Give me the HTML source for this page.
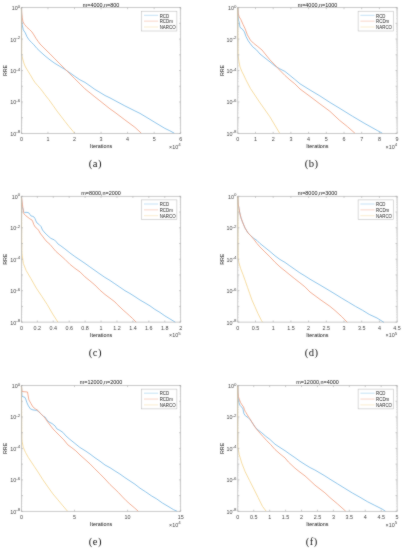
<!DOCTYPE html>
<html><head><meta charset="utf-8"><style>
html,body{margin:0;padding:0;background:#fff;width:402px;height:550px;overflow:hidden}
svg{display:block}
.tl{font-family:"Liberation Sans",Arial,sans-serif;font-size:5.4px;fill:#444444}
.xl{font-family:"Liberation Sans",Arial,sans-serif;font-size:5.4px;fill:#111}
.sup{font-size:4.4px}
.yl{font-family:"Liberation Sans",Arial,sans-serif;font-size:5.3px;fill:#111}
.tt{font-family:"Liberation Sans",Arial,sans-serif;font-size:5.45px;fill:#111}
.lg{font-family:"Liberation Sans",Arial,sans-serif;font-size:4.6px;fill:#1a1a1a}
.cap{font-family:"Liberation Serif","Times New Roman",serif;font-size:10.6px;letter-spacing:0.5px;fill:#151515}
</style></head><body>
<svg width="402" height="550" viewBox="0 0 402 550">
<defs><filter id="bl" x="0" y="0" width="402" height="550" filterUnits="userSpaceOnUse" color-interpolation-filters="sRGB"><feConvolveMatrix order="3" kernelMatrix="1 2 1 2 20 2 1 2 1" edgeMode="duplicate"/></filter></defs>
<g filter="url(#bl)">
<rect width="402" height="550" fill="#fff"/>
<polyline points="21.40,7.60 21.70,19.90 22.20,24.90 23.30,29.90 25.30,32.90 27.00,36.80 29.00,39.80 31.40,42.30 33.90,44.80 37.00,48.50 40.00,51.40 45.00,55.90 50.00,59.90 54.90,63.40 59.90,66.40 64.90,69.40 69.90,72.80 74.80,76.30 79.90,79.80 85.00,82.40 90.00,85.90 94.90,89.40 99.90,92.40 105.00,95.50 110.00,97.90 115.00,100.60 124.90,105.90 134.90,110.90 140.00,113.40 145.00,116.40 150.00,119.40 154.90,122.40 159.90,125.40 164.90,128.40 169.90,130.80 174.30,133.20" fill="none" stroke="#78b9e6" stroke-width="0.85" stroke-linejoin="round"/>
<polyline points="21.40,7.60 21.80,13.50 22.30,17.90 23.00,21.90 24.50,24.40 27.00,27.40 29.40,29.40 31.90,31.90 33.90,34.90 35.90,38.30 38.40,41.80 40.00,44.00 45.00,49.00 50.00,53.90 54.90,58.90 59.90,63.90 64.90,68.90 69.90,73.80 74.80,78.80 80.00,83.90 85.00,88.90 90.00,92.90 94.90,96.90 99.90,100.80 105.00,104.90 109.90,108.80 115.00,112.40 124.90,119.90 134.90,127.30 141.30,133.20" fill="none" stroke="#f09e80" stroke-width="0.85" stroke-linejoin="round"/>
<polyline points="21.40,7.60 21.70,55.00 23.00,60.00 24.20,64.00 25.50,67.00 27.00,69.50 28.50,71.90 30.00,74.40 31.00,76.00 33.00,79.50 35.00,82.50 37.50,85.40 40.00,88.20 42.40,91.20 44.90,94.70 49.00,99.80 53.00,105.40 56.90,110.90 60.90,116.10 64.90,121.30 68.90,126.40 72.90,131.20 74.50,133.30" fill="none" stroke="#f4d690" stroke-width="0.85" stroke-linejoin="round"/>
<rect x="21.40" y="7.60" width="159.30" height="125.80" fill="none" stroke="#b4b4b4" stroke-width="0.7"/>
<text x="21.40" y="141.10" class="tl" text-anchor="middle">0</text>
<text x="47.95" y="141.10" class="tl" text-anchor="middle">1</text>
<text x="74.50" y="141.10" class="tl" text-anchor="middle">2</text>
<text x="101.05" y="141.10" class="tl" text-anchor="middle">3</text>
<text x="127.60" y="141.10" class="tl" text-anchor="middle">4</text>
<text x="154.15" y="141.10" class="tl" text-anchor="middle">5</text>
<text x="180.70" y="141.10" class="tl" text-anchor="middle">6</text>
<text x="20.10" y="10.10" class="tl" text-anchor="end">10<tspan class="sup" dy="-2.5">0</tspan></text>
<text x="20.10" y="41.55" class="tl" text-anchor="end">10<tspan class="sup" dy="-2.5">-2</tspan></text>
<text x="20.10" y="73.00" class="tl" text-anchor="end">10<tspan class="sup" dy="-2.5">-4</tspan></text>
<text x="20.10" y="104.45" class="tl" text-anchor="end">10<tspan class="sup" dy="-2.5">-6</tspan></text>
<text x="20.10" y="135.90" class="tl" text-anchor="end">10<tspan class="sup" dy="-2.5">-8</tspan></text>
<path d="M21.40 133.40v-1.6M21.40 7.60v1.6M47.95 133.40v-1.6M47.95 7.60v1.6M74.50 133.40v-1.6M74.50 7.60v1.6M101.05 133.40v-1.6M101.05 7.60v1.6M127.60 133.40v-1.6M127.60 7.60v1.6M154.15 133.40v-1.6M154.15 7.60v1.6M180.70 133.40v-1.6M180.70 7.60v1.6M21.40 7.60h1.6M180.70 7.60h-1.6M21.40 23.32h1.6M180.70 23.32h-1.6M21.40 39.05h1.6M180.70 39.05h-1.6M21.40 54.77h1.6M180.70 54.77h-1.6M21.40 70.50h1.6M180.70 70.50h-1.6M21.40 86.22h1.6M180.70 86.22h-1.6M21.40 101.95h1.6M180.70 101.95h-1.6M21.40 117.67h1.6M180.70 117.67h-1.6M21.40 133.40h1.6M180.70 133.40h-1.6" stroke="#a8a8a8" stroke-width="0.6" fill="none"/>
<path d="M21.40 18.59h1.0M180.70 18.59h-1.0M21.40 15.82h1.0M180.70 15.82h-1.0M21.40 13.86h1.0M180.70 13.86h-1.0M21.40 12.33h1.0M180.70 12.33h-1.0M21.40 11.09h1.0M180.70 11.09h-1.0M21.40 10.04h1.0M180.70 10.04h-1.0M21.40 9.12h1.0M180.70 9.12h-1.0M21.40 8.32h1.0M180.70 8.32h-1.0M21.40 34.32h1.0M180.70 34.32h-1.0M21.40 31.55h1.0M180.70 31.55h-1.0M21.40 29.58h1.0M180.70 29.58h-1.0M21.40 28.06h1.0M180.70 28.06h-1.0M21.40 26.81h1.0M180.70 26.81h-1.0M21.40 25.76h1.0M180.70 25.76h-1.0M21.40 24.85h1.0M180.70 24.85h-1.0M21.40 24.04h1.0M180.70 24.04h-1.0M21.40 50.04h1.0M180.70 50.04h-1.0M21.40 47.27h1.0M180.70 47.27h-1.0M21.40 45.31h1.0M180.70 45.31h-1.0M21.40 43.78h1.0M180.70 43.78h-1.0M21.40 42.54h1.0M180.70 42.54h-1.0M21.40 41.49h1.0M180.70 41.49h-1.0M21.40 40.57h1.0M180.70 40.57h-1.0M21.40 39.77h1.0M180.70 39.77h-1.0M21.40 65.77h1.0M180.70 65.77h-1.0M21.40 63.00h1.0M180.70 63.00h-1.0M21.40 61.03h1.0M180.70 61.03h-1.0M21.40 59.51h1.0M180.70 59.51h-1.0M21.40 58.26h1.0M180.70 58.26h-1.0M21.40 57.21h1.0M180.70 57.21h-1.0M21.40 56.30h1.0M180.70 56.30h-1.0M21.40 55.49h1.0M180.70 55.49h-1.0M21.40 81.49h1.0M180.70 81.49h-1.0M21.40 78.72h1.0M180.70 78.72h-1.0M21.40 76.76h1.0M180.70 76.76h-1.0M21.40 75.23h1.0M180.70 75.23h-1.0M21.40 73.99h1.0M180.70 73.99h-1.0M21.40 72.94h1.0M180.70 72.94h-1.0M21.40 72.02h1.0M180.70 72.02h-1.0M21.40 71.22h1.0M180.70 71.22h-1.0M21.40 97.22h1.0M180.70 97.22h-1.0M21.40 94.45h1.0M180.70 94.45h-1.0M21.40 92.48h1.0M180.70 92.48h-1.0M21.40 90.96h1.0M180.70 90.96h-1.0M21.40 89.71h1.0M180.70 89.71h-1.0M21.40 88.66h1.0M180.70 88.66h-1.0M21.40 87.75h1.0M180.70 87.75h-1.0M21.40 86.94h1.0M180.70 86.94h-1.0M21.40 112.94h1.0M180.70 112.94h-1.0M21.40 110.17h1.0M180.70 110.17h-1.0M21.40 108.21h1.0M180.70 108.21h-1.0M21.40 106.68h1.0M180.70 106.68h-1.0M21.40 105.44h1.0M180.70 105.44h-1.0M21.40 104.39h1.0M180.70 104.39h-1.0M21.40 103.47h1.0M180.70 103.47h-1.0M21.40 102.67h1.0M180.70 102.67h-1.0M21.40 128.67h1.0M180.70 128.67h-1.0M21.40 125.90h1.0M180.70 125.90h-1.0M21.40 123.93h1.0M180.70 123.93h-1.0M21.40 122.41h1.0M180.70 122.41h-1.0M21.40 121.16h1.0M180.70 121.16h-1.0M21.40 120.11h1.0M180.70 120.11h-1.0M21.40 119.20h1.0M180.70 119.20h-1.0M21.40 118.39h1.0M180.70 118.39h-1.0" stroke="#c4c4c4" stroke-width="0.4" fill="none"/>
<text x="180.70" y="148.70" class="tl" text-anchor="end">&#215;10<tspan class="sup" dy="-2.3">4</tspan></text>
<text x="101.05" y="147.90" class="xl" text-anchor="middle">Iterations</text>
<text transform="translate(7.40 70.50) rotate(-90)" class="yl" text-anchor="middle">RRE</text>
<text x="101.05" y="6.50" class="tt" text-anchor="middle">m=4000,n=800</text>
<rect x="141.70" y="11.20" width="35.2" height="19.8" fill="#fff" stroke="#b4b4b4" stroke-width="0.5"/>
<line x1="144.00" y1="15.30" x2="158.20" y2="15.30" stroke="#78b9e6" stroke-width="0.8" stroke-opacity="0.55"/>
<text x="159.70" y="17.50" class="lg" textLength="9.4" lengthAdjust="spacingAndGlyphs">RCD</text>
<line x1="144.00" y1="21.15" x2="158.20" y2="21.15" stroke="#f09e80" stroke-width="0.8" stroke-opacity="0.55"/>
<text x="159.70" y="23.35" class="lg" textLength="13.1" lengthAdjust="spacingAndGlyphs">RCDm</text>
<line x1="144.00" y1="27.00" x2="158.20" y2="27.00" stroke="#f4d690" stroke-width="0.8" stroke-opacity="0.55"/>
<text x="159.70" y="29.20" class="lg" textLength="15.9" lengthAdjust="spacingAndGlyphs">NARCO</text>
<text x="95.30" y="167.20" class="cap" text-anchor="middle">(a)</text>
<polyline points="237.80,7.60 238.40,20.00 239.20,22.20 240.00,27.40 242.20,28.90 244.40,31.90 245.90,36.30 248.20,40.80 250.40,43.80 252.70,46.80 256.40,49.80 260.00,54.00 265.00,58.00 270.00,61.90 274.90,65.90 279.90,68.90 284.90,71.40 289.90,75.40 294.80,79.40 300.00,83.80 310.00,90.00 319.90,95.90 329.90,102.40 340.00,108.50 352.40,116.20 364.90,123.60 377.30,130.50 382.30,133.20" fill="none" stroke="#78b9e6" stroke-width="0.85" stroke-linejoin="round"/>
<polyline points="237.80,7.60 238.20,13.20 239.20,16.90 240.70,19.20 243.00,24.40 245.20,28.90 247.40,34.90 250.40,40.10 253.40,43.10 257.10,46.00 262.00,50.00 266.00,55.00 270.00,59.90 274.90,64.90 279.90,70.40 284.90,75.40 289.90,79.90 294.80,83.80 300.00,89.00 310.00,96.40 319.90,103.90 329.90,111.30 339.40,120.20 347.50,126.70 354.90,133.20" fill="none" stroke="#f09e80" stroke-width="0.85" stroke-linejoin="round"/>
<polyline points="237.60,7.70 238.00,54.90 239.00,61.90 240.00,66.90 242.00,71.80 243.70,75.00 245.90,79.80 250.40,88.40 259.40,101.90 269.90,116.80 279.60,133.10" fill="none" stroke="#f4d690" stroke-width="0.85" stroke-linejoin="round"/>
<rect x="237.80" y="7.60" width="159.30" height="125.80" fill="none" stroke="#b4b4b4" stroke-width="0.7"/>
<text x="237.80" y="141.10" class="tl" text-anchor="middle">0</text>
<text x="255.50" y="141.10" class="tl" text-anchor="middle">1</text>
<text x="273.20" y="141.10" class="tl" text-anchor="middle">2</text>
<text x="290.90" y="141.10" class="tl" text-anchor="middle">3</text>
<text x="308.60" y="141.10" class="tl" text-anchor="middle">4</text>
<text x="326.30" y="141.10" class="tl" text-anchor="middle">5</text>
<text x="344.00" y="141.10" class="tl" text-anchor="middle">6</text>
<text x="361.70" y="141.10" class="tl" text-anchor="middle">7</text>
<text x="379.40" y="141.10" class="tl" text-anchor="middle">8</text>
<text x="397.10" y="141.10" class="tl" text-anchor="middle">9</text>
<text x="236.50" y="10.10" class="tl" text-anchor="end">10<tspan class="sup" dy="-2.5">0</tspan></text>
<text x="236.50" y="41.55" class="tl" text-anchor="end">10<tspan class="sup" dy="-2.5">-2</tspan></text>
<text x="236.50" y="73.00" class="tl" text-anchor="end">10<tspan class="sup" dy="-2.5">-4</tspan></text>
<text x="236.50" y="104.45" class="tl" text-anchor="end">10<tspan class="sup" dy="-2.5">-6</tspan></text>
<text x="236.50" y="135.90" class="tl" text-anchor="end">10<tspan class="sup" dy="-2.5">-8</tspan></text>
<path d="M237.80 133.40v-1.6M237.80 7.60v1.6M255.50 133.40v-1.6M255.50 7.60v1.6M273.20 133.40v-1.6M273.20 7.60v1.6M290.90 133.40v-1.6M290.90 7.60v1.6M308.60 133.40v-1.6M308.60 7.60v1.6M326.30 133.40v-1.6M326.30 7.60v1.6M344.00 133.40v-1.6M344.00 7.60v1.6M361.70 133.40v-1.6M361.70 7.60v1.6M379.40 133.40v-1.6M379.40 7.60v1.6M397.10 133.40v-1.6M397.10 7.60v1.6M237.80 7.60h1.6M397.10 7.60h-1.6M237.80 23.32h1.6M397.10 23.32h-1.6M237.80 39.05h1.6M397.10 39.05h-1.6M237.80 54.77h1.6M397.10 54.77h-1.6M237.80 70.50h1.6M397.10 70.50h-1.6M237.80 86.22h1.6M397.10 86.22h-1.6M237.80 101.95h1.6M397.10 101.95h-1.6M237.80 117.67h1.6M397.10 117.67h-1.6M237.80 133.40h1.6M397.10 133.40h-1.6" stroke="#a8a8a8" stroke-width="0.6" fill="none"/>
<path d="M237.80 18.59h1.0M397.10 18.59h-1.0M237.80 15.82h1.0M397.10 15.82h-1.0M237.80 13.86h1.0M397.10 13.86h-1.0M237.80 12.33h1.0M397.10 12.33h-1.0M237.80 11.09h1.0M397.10 11.09h-1.0M237.80 10.04h1.0M397.10 10.04h-1.0M237.80 9.12h1.0M397.10 9.12h-1.0M237.80 8.32h1.0M397.10 8.32h-1.0M237.80 34.32h1.0M397.10 34.32h-1.0M237.80 31.55h1.0M397.10 31.55h-1.0M237.80 29.58h1.0M397.10 29.58h-1.0M237.80 28.06h1.0M397.10 28.06h-1.0M237.80 26.81h1.0M397.10 26.81h-1.0M237.80 25.76h1.0M397.10 25.76h-1.0M237.80 24.85h1.0M397.10 24.85h-1.0M237.80 24.04h1.0M397.10 24.04h-1.0M237.80 50.04h1.0M397.10 50.04h-1.0M237.80 47.27h1.0M397.10 47.27h-1.0M237.80 45.31h1.0M397.10 45.31h-1.0M237.80 43.78h1.0M397.10 43.78h-1.0M237.80 42.54h1.0M397.10 42.54h-1.0M237.80 41.49h1.0M397.10 41.49h-1.0M237.80 40.57h1.0M397.10 40.57h-1.0M237.80 39.77h1.0M397.10 39.77h-1.0M237.80 65.77h1.0M397.10 65.77h-1.0M237.80 63.00h1.0M397.10 63.00h-1.0M237.80 61.03h1.0M397.10 61.03h-1.0M237.80 59.51h1.0M397.10 59.51h-1.0M237.80 58.26h1.0M397.10 58.26h-1.0M237.80 57.21h1.0M397.10 57.21h-1.0M237.80 56.30h1.0M397.10 56.30h-1.0M237.80 55.49h1.0M397.10 55.49h-1.0M237.80 81.49h1.0M397.10 81.49h-1.0M237.80 78.72h1.0M397.10 78.72h-1.0M237.80 76.76h1.0M397.10 76.76h-1.0M237.80 75.23h1.0M397.10 75.23h-1.0M237.80 73.99h1.0M397.10 73.99h-1.0M237.80 72.94h1.0M397.10 72.94h-1.0M237.80 72.02h1.0M397.10 72.02h-1.0M237.80 71.22h1.0M397.10 71.22h-1.0M237.80 97.22h1.0M397.10 97.22h-1.0M237.80 94.45h1.0M397.10 94.45h-1.0M237.80 92.48h1.0M397.10 92.48h-1.0M237.80 90.96h1.0M397.10 90.96h-1.0M237.80 89.71h1.0M397.10 89.71h-1.0M237.80 88.66h1.0M397.10 88.66h-1.0M237.80 87.75h1.0M397.10 87.75h-1.0M237.80 86.94h1.0M397.10 86.94h-1.0M237.80 112.94h1.0M397.10 112.94h-1.0M237.80 110.17h1.0M397.10 110.17h-1.0M237.80 108.21h1.0M397.10 108.21h-1.0M237.80 106.68h1.0M397.10 106.68h-1.0M237.80 105.44h1.0M397.10 105.44h-1.0M237.80 104.39h1.0M397.10 104.39h-1.0M237.80 103.47h1.0M397.10 103.47h-1.0M237.80 102.67h1.0M397.10 102.67h-1.0M237.80 128.67h1.0M397.10 128.67h-1.0M237.80 125.90h1.0M397.10 125.90h-1.0M237.80 123.93h1.0M397.10 123.93h-1.0M237.80 122.41h1.0M397.10 122.41h-1.0M237.80 121.16h1.0M397.10 121.16h-1.0M237.80 120.11h1.0M397.10 120.11h-1.0M237.80 119.20h1.0M397.10 119.20h-1.0M237.80 118.39h1.0M397.10 118.39h-1.0" stroke="#c4c4c4" stroke-width="0.4" fill="none"/>
<text x="397.10" y="148.70" class="tl" text-anchor="end">&#215;10<tspan class="sup" dy="-2.3">4</tspan></text>
<text x="317.45" y="147.90" class="xl" text-anchor="middle">Iterations</text>
<text transform="translate(223.80 70.50) rotate(-90)" class="yl" text-anchor="middle">RRE</text>
<text x="317.45" y="6.50" class="tt" text-anchor="middle">m=4000,n=1000</text>
<rect x="358.10" y="11.20" width="35.2" height="19.8" fill="#fff" stroke="#b4b4b4" stroke-width="0.5"/>
<line x1="360.40" y1="15.30" x2="374.60" y2="15.30" stroke="#78b9e6" stroke-width="0.8" stroke-opacity="0.55"/>
<text x="376.10" y="17.50" class="lg" textLength="9.4" lengthAdjust="spacingAndGlyphs">RCD</text>
<line x1="360.40" y1="21.15" x2="374.60" y2="21.15" stroke="#f09e80" stroke-width="0.8" stroke-opacity="0.55"/>
<text x="376.10" y="23.35" class="lg" textLength="13.1" lengthAdjust="spacingAndGlyphs">RCDm</text>
<line x1="360.40" y1="27.00" x2="374.60" y2="27.00" stroke="#f4d690" stroke-width="0.8" stroke-opacity="0.55"/>
<text x="376.10" y="29.20" class="lg" textLength="15.9" lengthAdjust="spacingAndGlyphs">NARCO</text>
<text x="311.70" y="167.20" class="cap" text-anchor="middle">(b)</text>
<polyline points="21.40,196.20 22.00,206.90 23.00,208.90 23.50,211.40 24.50,212.40 27.00,212.40 28.90,212.90 29.90,214.40 30.90,215.90 32.90,216.40 33.90,216.90 34.90,218.40 35.90,220.90 36.90,222.90 38.90,224.30 41.00,226.50 42.50,230.00 45.00,233.00 48.00,235.90 50.90,238.40 54.40,239.90 56.40,241.90 57.90,243.90 60.90,245.90 64.90,248.90 69.90,252.90 74.80,256.50 80.00,260.00 85.00,263.40 89.90,266.90 95.00,270.50 99.95,274.00 104.90,277.40 109.90,280.40 114.90,283.80 119.90,287.20 125.00,290.70 130.00,293.50 135.00,296.70 140.00,300.00 145.00,302.90 150.00,305.90 154.90,309.40 159.90,312.40 164.90,315.90 169.90,318.90 175.30,322.20" fill="none" stroke="#78b9e6" stroke-width="0.85" stroke-linejoin="round"/>
<polyline points="21.40,196.20 22.00,201.00 22.50,204.90 23.00,208.90 23.50,212.40 24.00,213.90 26.00,215.90 28.00,217.40 29.90,218.90 31.90,219.90 32.90,221.90 33.90,224.80 35.40,227.30 37.40,228.80 38.90,230.80 40.00,233.00 43.00,236.90 46.00,240.90 50.00,244.40 52.90,247.90 55.90,251.40 59.90,254.90 64.90,259.30 69.90,264.30 75.00,268.40 80.00,271.90 85.00,276.90 89.90,280.80 94.90,285.00 100.00,290.20 105.00,294.50 110.00,298.20 114.90,301.90 117.20,304.40 123.10,310.00 126.20,312.70 129.30,315.50 132.40,318.30 136.20,322.20" fill="none" stroke="#f09e80" stroke-width="0.85" stroke-linejoin="round"/>
<polyline points="21.40,196.20 21.80,250.00 22.00,254.10 23.40,263.60 26.10,270.40 30.90,278.60 36.30,288.10 41.80,296.30 47.20,304.50 52.70,314.00 57.90,322.10" fill="none" stroke="#f4d690" stroke-width="0.85" stroke-linejoin="round"/>
<rect x="21.40" y="196.30" width="159.30" height="125.80" fill="none" stroke="#b4b4b4" stroke-width="0.7"/>
<text x="21.40" y="329.80" class="tl" text-anchor="middle">0</text>
<text x="37.33" y="329.80" class="tl" text-anchor="middle">0.2</text>
<text x="53.26" y="329.80" class="tl" text-anchor="middle">0.4</text>
<text x="69.19" y="329.80" class="tl" text-anchor="middle">0.6</text>
<text x="85.12" y="329.80" class="tl" text-anchor="middle">0.8</text>
<text x="101.05" y="329.80" class="tl" text-anchor="middle">1</text>
<text x="116.98" y="329.80" class="tl" text-anchor="middle">1.2</text>
<text x="132.91" y="329.80" class="tl" text-anchor="middle">1.4</text>
<text x="148.84" y="329.80" class="tl" text-anchor="middle">1.6</text>
<text x="164.77" y="329.80" class="tl" text-anchor="middle">1.8</text>
<text x="180.70" y="329.80" class="tl" text-anchor="middle">2</text>
<text x="20.10" y="198.80" class="tl" text-anchor="end">10<tspan class="sup" dy="-2.5">0</tspan></text>
<text x="20.10" y="230.25" class="tl" text-anchor="end">10<tspan class="sup" dy="-2.5">-2</tspan></text>
<text x="20.10" y="261.70" class="tl" text-anchor="end">10<tspan class="sup" dy="-2.5">-4</tspan></text>
<text x="20.10" y="293.15" class="tl" text-anchor="end">10<tspan class="sup" dy="-2.5">-6</tspan></text>
<text x="20.10" y="324.60" class="tl" text-anchor="end">10<tspan class="sup" dy="-2.5">-8</tspan></text>
<path d="M21.40 322.10v-1.6M21.40 196.30v1.6M37.33 322.10v-1.6M37.33 196.30v1.6M53.26 322.10v-1.6M53.26 196.30v1.6M69.19 322.10v-1.6M69.19 196.30v1.6M85.12 322.10v-1.6M85.12 196.30v1.6M101.05 322.10v-1.6M101.05 196.30v1.6M116.98 322.10v-1.6M116.98 196.30v1.6M132.91 322.10v-1.6M132.91 196.30v1.6M148.84 322.10v-1.6M148.84 196.30v1.6M164.77 322.10v-1.6M164.77 196.30v1.6M180.70 322.10v-1.6M180.70 196.30v1.6M21.40 196.30h1.6M180.70 196.30h-1.6M21.40 212.03h1.6M180.70 212.03h-1.6M21.40 227.75h1.6M180.70 227.75h-1.6M21.40 243.48h1.6M180.70 243.48h-1.6M21.40 259.20h1.6M180.70 259.20h-1.6M21.40 274.93h1.6M180.70 274.93h-1.6M21.40 290.65h1.6M180.70 290.65h-1.6M21.40 306.38h1.6M180.70 306.38h-1.6M21.40 322.10h1.6M180.70 322.10h-1.6" stroke="#a8a8a8" stroke-width="0.6" fill="none"/>
<path d="M21.40 207.29h1.0M180.70 207.29h-1.0M21.40 204.52h1.0M180.70 204.52h-1.0M21.40 202.56h1.0M180.70 202.56h-1.0M21.40 201.03h1.0M180.70 201.03h-1.0M21.40 199.79h1.0M180.70 199.79h-1.0M21.40 198.74h1.0M180.70 198.74h-1.0M21.40 197.82h1.0M180.70 197.82h-1.0M21.40 197.02h1.0M180.70 197.02h-1.0M21.40 223.02h1.0M180.70 223.02h-1.0M21.40 220.25h1.0M180.70 220.25h-1.0M21.40 218.28h1.0M180.70 218.28h-1.0M21.40 216.76h1.0M180.70 216.76h-1.0M21.40 215.51h1.0M180.70 215.51h-1.0M21.40 214.46h1.0M180.70 214.46h-1.0M21.40 213.55h1.0M180.70 213.55h-1.0M21.40 212.74h1.0M180.70 212.74h-1.0M21.40 238.74h1.0M180.70 238.74h-1.0M21.40 235.97h1.0M180.70 235.97h-1.0M21.40 234.01h1.0M180.70 234.01h-1.0M21.40 232.48h1.0M180.70 232.48h-1.0M21.40 231.24h1.0M180.70 231.24h-1.0M21.40 230.19h1.0M180.70 230.19h-1.0M21.40 229.27h1.0M180.70 229.27h-1.0M21.40 228.47h1.0M180.70 228.47h-1.0M21.40 254.47h1.0M180.70 254.47h-1.0M21.40 251.70h1.0M180.70 251.70h-1.0M21.40 249.73h1.0M180.70 249.73h-1.0M21.40 248.21h1.0M180.70 248.21h-1.0M21.40 246.96h1.0M180.70 246.96h-1.0M21.40 245.91h1.0M180.70 245.91h-1.0M21.40 245.00h1.0M180.70 245.00h-1.0M21.40 244.19h1.0M180.70 244.19h-1.0M21.40 270.19h1.0M180.70 270.19h-1.0M21.40 267.42h1.0M180.70 267.42h-1.0M21.40 265.46h1.0M180.70 265.46h-1.0M21.40 263.93h1.0M180.70 263.93h-1.0M21.40 262.69h1.0M180.70 262.69h-1.0M21.40 261.64h1.0M180.70 261.64h-1.0M21.40 260.72h1.0M180.70 260.72h-1.0M21.40 259.92h1.0M180.70 259.92h-1.0M21.40 285.92h1.0M180.70 285.92h-1.0M21.40 283.15h1.0M180.70 283.15h-1.0M21.40 281.18h1.0M180.70 281.18h-1.0M21.40 279.66h1.0M180.70 279.66h-1.0M21.40 278.41h1.0M180.70 278.41h-1.0M21.40 277.36h1.0M180.70 277.36h-1.0M21.40 276.45h1.0M180.70 276.45h-1.0M21.40 275.64h1.0M180.70 275.64h-1.0M21.40 301.64h1.0M180.70 301.64h-1.0M21.40 298.87h1.0M180.70 298.87h-1.0M21.40 296.91h1.0M180.70 296.91h-1.0M21.40 295.38h1.0M180.70 295.38h-1.0M21.40 294.14h1.0M180.70 294.14h-1.0M21.40 293.09h1.0M180.70 293.09h-1.0M21.40 292.17h1.0M180.70 292.17h-1.0M21.40 291.37h1.0M180.70 291.37h-1.0M21.40 317.37h1.0M180.70 317.37h-1.0M21.40 314.60h1.0M180.70 314.60h-1.0M21.40 312.63h1.0M180.70 312.63h-1.0M21.40 311.11h1.0M180.70 311.11h-1.0M21.40 309.86h1.0M180.70 309.86h-1.0M21.40 308.81h1.0M180.70 308.81h-1.0M21.40 307.90h1.0M180.70 307.90h-1.0M21.40 307.09h1.0M180.70 307.09h-1.0" stroke="#c4c4c4" stroke-width="0.4" fill="none"/>
<text x="180.70" y="337.40" class="tl" text-anchor="end">&#215;10<tspan class="sup" dy="-2.3">5</tspan></text>
<text x="101.05" y="336.60" class="xl" text-anchor="middle">Iterations</text>
<text transform="translate(7.40 259.20) rotate(-90)" class="yl" text-anchor="middle">RRE</text>
<text x="101.05" y="195.20" class="tt" text-anchor="middle">m=8000,n=2000</text>
<rect x="141.70" y="199.90" width="35.2" height="19.8" fill="#fff" stroke="#b4b4b4" stroke-width="0.5"/>
<line x1="144.00" y1="204.00" x2="158.20" y2="204.00" stroke="#78b9e6" stroke-width="0.8" stroke-opacity="0.55"/>
<text x="159.70" y="206.20" class="lg" textLength="9.4" lengthAdjust="spacingAndGlyphs">RCD</text>
<line x1="144.00" y1="209.85" x2="158.20" y2="209.85" stroke="#f09e80" stroke-width="0.8" stroke-opacity="0.55"/>
<text x="159.70" y="212.05" class="lg" textLength="13.1" lengthAdjust="spacingAndGlyphs">RCDm</text>
<line x1="144.00" y1="215.70" x2="158.20" y2="215.70" stroke="#f4d690" stroke-width="0.8" stroke-opacity="0.55"/>
<text x="159.70" y="217.90" class="lg" textLength="15.9" lengthAdjust="spacingAndGlyphs">NARCO</text>
<text x="95.30" y="355.90" class="cap" text-anchor="middle">(c)</text>
<polyline points="237.80,196.20 238.20,204.00 239.00,208.50 239.70,212.50 241.00,217.90 242.50,222.00 245.00,228.00 248.00,232.90 250.90,235.90 253.90,238.40 256.90,240.40 259.90,243.40 264.90,247.40 269.90,251.40 275.00,255.80 280.00,259.50 285.00,262.40 289.90,265.90 294.90,269.40 299.90,272.90 304.90,275.90 310.00,279.20 320.00,285.00 329.90,290.90 335.00,294.00 341.80,298.20 348.70,302.30 355.50,306.40 362.40,310.20 369.20,314.40 377.00,318.00 384.00,322.40" fill="none" stroke="#78b9e6" stroke-width="0.85" stroke-linejoin="round"/>
<polyline points="237.80,196.20 238.20,204.00 239.00,208.50 239.70,212.50 241.00,217.90 242.50,222.00 245.00,228.00 248.00,232.90 250.90,235.90 253.90,239.40 256.90,243.40 259.90,246.90 264.90,251.90 269.90,256.80 275.00,262.20 280.00,266.90 285.00,270.90 289.90,274.90 294.90,278.90 299.90,282.80 304.90,286.80 310.00,292.00 320.00,299.40 329.90,306.30 335.00,310.50 341.80,316.70 347.30,322.30" fill="none" stroke="#f09e80" stroke-width="0.85" stroke-linejoin="round"/>
<polyline points="237.80,196.20 238.00,255.00 238.10,258.20 238.90,262.70 240.70,268.70 243.00,274.60 245.40,281.20 247.60,287.60 249.60,293.30 251.90,299.90 254.90,306.60 257.90,313.40 261.60,320.80 262.60,322.20" fill="none" stroke="#f4d690" stroke-width="0.85" stroke-linejoin="round"/>
<rect x="237.80" y="196.30" width="159.30" height="125.80" fill="none" stroke="#b4b4b4" stroke-width="0.7"/>
<text x="237.80" y="329.80" class="tl" text-anchor="middle">0</text>
<text x="255.50" y="329.80" class="tl" text-anchor="middle">0.5</text>
<text x="273.20" y="329.80" class="tl" text-anchor="middle">1</text>
<text x="290.90" y="329.80" class="tl" text-anchor="middle">1.5</text>
<text x="308.60" y="329.80" class="tl" text-anchor="middle">2</text>
<text x="326.30" y="329.80" class="tl" text-anchor="middle">2.5</text>
<text x="344.00" y="329.80" class="tl" text-anchor="middle">3</text>
<text x="361.70" y="329.80" class="tl" text-anchor="middle">3.5</text>
<text x="379.40" y="329.80" class="tl" text-anchor="middle">4</text>
<text x="397.10" y="329.80" class="tl" text-anchor="middle">4.5</text>
<text x="236.50" y="198.80" class="tl" text-anchor="end">10<tspan class="sup" dy="-2.5">0</tspan></text>
<text x="236.50" y="230.25" class="tl" text-anchor="end">10<tspan class="sup" dy="-2.5">-2</tspan></text>
<text x="236.50" y="261.70" class="tl" text-anchor="end">10<tspan class="sup" dy="-2.5">-4</tspan></text>
<text x="236.50" y="293.15" class="tl" text-anchor="end">10<tspan class="sup" dy="-2.5">-6</tspan></text>
<text x="236.50" y="324.60" class="tl" text-anchor="end">10<tspan class="sup" dy="-2.5">-8</tspan></text>
<path d="M237.80 322.10v-1.6M237.80 196.30v1.6M255.50 322.10v-1.6M255.50 196.30v1.6M273.20 322.10v-1.6M273.20 196.30v1.6M290.90 322.10v-1.6M290.90 196.30v1.6M308.60 322.10v-1.6M308.60 196.30v1.6M326.30 322.10v-1.6M326.30 196.30v1.6M344.00 322.10v-1.6M344.00 196.30v1.6M361.70 322.10v-1.6M361.70 196.30v1.6M379.40 322.10v-1.6M379.40 196.30v1.6M397.10 322.10v-1.6M397.10 196.30v1.6M237.80 196.30h1.6M397.10 196.30h-1.6M237.80 212.03h1.6M397.10 212.03h-1.6M237.80 227.75h1.6M397.10 227.75h-1.6M237.80 243.48h1.6M397.10 243.48h-1.6M237.80 259.20h1.6M397.10 259.20h-1.6M237.80 274.93h1.6M397.10 274.93h-1.6M237.80 290.65h1.6M397.10 290.65h-1.6M237.80 306.38h1.6M397.10 306.38h-1.6M237.80 322.10h1.6M397.10 322.10h-1.6" stroke="#a8a8a8" stroke-width="0.6" fill="none"/>
<path d="M237.80 207.29h1.0M397.10 207.29h-1.0M237.80 204.52h1.0M397.10 204.52h-1.0M237.80 202.56h1.0M397.10 202.56h-1.0M237.80 201.03h1.0M397.10 201.03h-1.0M237.80 199.79h1.0M397.10 199.79h-1.0M237.80 198.74h1.0M397.10 198.74h-1.0M237.80 197.82h1.0M397.10 197.82h-1.0M237.80 197.02h1.0M397.10 197.02h-1.0M237.80 223.02h1.0M397.10 223.02h-1.0M237.80 220.25h1.0M397.10 220.25h-1.0M237.80 218.28h1.0M397.10 218.28h-1.0M237.80 216.76h1.0M397.10 216.76h-1.0M237.80 215.51h1.0M397.10 215.51h-1.0M237.80 214.46h1.0M397.10 214.46h-1.0M237.80 213.55h1.0M397.10 213.55h-1.0M237.80 212.74h1.0M397.10 212.74h-1.0M237.80 238.74h1.0M397.10 238.74h-1.0M237.80 235.97h1.0M397.10 235.97h-1.0M237.80 234.01h1.0M397.10 234.01h-1.0M237.80 232.48h1.0M397.10 232.48h-1.0M237.80 231.24h1.0M397.10 231.24h-1.0M237.80 230.19h1.0M397.10 230.19h-1.0M237.80 229.27h1.0M397.10 229.27h-1.0M237.80 228.47h1.0M397.10 228.47h-1.0M237.80 254.47h1.0M397.10 254.47h-1.0M237.80 251.70h1.0M397.10 251.70h-1.0M237.80 249.73h1.0M397.10 249.73h-1.0M237.80 248.21h1.0M397.10 248.21h-1.0M237.80 246.96h1.0M397.10 246.96h-1.0M237.80 245.91h1.0M397.10 245.91h-1.0M237.80 245.00h1.0M397.10 245.00h-1.0M237.80 244.19h1.0M397.10 244.19h-1.0M237.80 270.19h1.0M397.10 270.19h-1.0M237.80 267.42h1.0M397.10 267.42h-1.0M237.80 265.46h1.0M397.10 265.46h-1.0M237.80 263.93h1.0M397.10 263.93h-1.0M237.80 262.69h1.0M397.10 262.69h-1.0M237.80 261.64h1.0M397.10 261.64h-1.0M237.80 260.72h1.0M397.10 260.72h-1.0M237.80 259.92h1.0M397.10 259.92h-1.0M237.80 285.92h1.0M397.10 285.92h-1.0M237.80 283.15h1.0M397.10 283.15h-1.0M237.80 281.18h1.0M397.10 281.18h-1.0M237.80 279.66h1.0M397.10 279.66h-1.0M237.80 278.41h1.0M397.10 278.41h-1.0M237.80 277.36h1.0M397.10 277.36h-1.0M237.80 276.45h1.0M397.10 276.45h-1.0M237.80 275.64h1.0M397.10 275.64h-1.0M237.80 301.64h1.0M397.10 301.64h-1.0M237.80 298.87h1.0M397.10 298.87h-1.0M237.80 296.91h1.0M397.10 296.91h-1.0M237.80 295.38h1.0M397.10 295.38h-1.0M237.80 294.14h1.0M397.10 294.14h-1.0M237.80 293.09h1.0M397.10 293.09h-1.0M237.80 292.17h1.0M397.10 292.17h-1.0M237.80 291.37h1.0M397.10 291.37h-1.0M237.80 317.37h1.0M397.10 317.37h-1.0M237.80 314.60h1.0M397.10 314.60h-1.0M237.80 312.63h1.0M397.10 312.63h-1.0M237.80 311.11h1.0M397.10 311.11h-1.0M237.80 309.86h1.0M397.10 309.86h-1.0M237.80 308.81h1.0M397.10 308.81h-1.0M237.80 307.90h1.0M397.10 307.90h-1.0M237.80 307.09h1.0M397.10 307.09h-1.0" stroke="#c4c4c4" stroke-width="0.4" fill="none"/>
<text x="397.10" y="337.40" class="tl" text-anchor="end">&#215;10<tspan class="sup" dy="-2.3">5</tspan></text>
<text x="317.45" y="336.60" class="xl" text-anchor="middle">Iterations</text>
<text transform="translate(223.80 259.20) rotate(-90)" class="yl" text-anchor="middle">RRE</text>
<text x="317.45" y="195.20" class="tt" text-anchor="middle">m=8000,n=3000</text>
<rect x="358.10" y="199.90" width="35.2" height="19.8" fill="#fff" stroke="#b4b4b4" stroke-width="0.5"/>
<line x1="360.40" y1="204.00" x2="374.60" y2="204.00" stroke="#78b9e6" stroke-width="0.8" stroke-opacity="0.55"/>
<text x="376.10" y="206.20" class="lg" textLength="9.4" lengthAdjust="spacingAndGlyphs">RCD</text>
<line x1="360.40" y1="209.85" x2="374.60" y2="209.85" stroke="#f09e80" stroke-width="0.8" stroke-opacity="0.55"/>
<text x="376.10" y="212.05" class="lg" textLength="13.1" lengthAdjust="spacingAndGlyphs">RCDm</text>
<line x1="360.40" y1="215.70" x2="374.60" y2="215.70" stroke="#f4d690" stroke-width="0.8" stroke-opacity="0.55"/>
<text x="376.10" y="217.90" class="lg" textLength="15.9" lengthAdjust="spacingAndGlyphs">NARCO</text>
<text x="311.70" y="355.90" class="cap" text-anchor="middle">(d)</text>
<polyline points="21.40,385.60 22.00,396.40 25.00,397.40 26.00,399.90 27.00,402.90 28.40,405.90 30.40,408.90 32.90,409.90 36.90,410.40 38.90,411.90 40.90,413.80 43.40,416.30 45.00,417.00 47.00,420.00 49.00,422.00 52.00,423.50 55.00,425.90 56.90,428.90 59.90,430.40 62.90,432.40 65.90,435.90 69.90,439.40 74.90,443.40 79.80,447.40 85.00,450.60 90.00,454.00 95.00,457.80 100.00,461.20 105.00,465.00 110.00,467.70 114.90,470.90 119.90,474.00 124.90,477.60 134.90,484.20 140.00,488.20 145.60,491.80 151.20,495.70 156.80,499.00 162.40,503.00 168.00,506.30 173.60,509.70 177.20,511.30" fill="none" stroke="#78b9e6" stroke-width="0.85" stroke-linejoin="round"/>
<polyline points="21.40,385.60 22.00,391.50 27.50,392.00 28.00,394.90 28.90,399.90 30.90,403.40 32.90,406.90 35.40,408.90 37.90,410.40 39.90,412.80 41.90,414.80 43.90,416.80 45.00,418.00 47.00,421.00 50.00,425.00 53.00,428.90 55.90,431.90 59.90,435.90 63.90,439.90 67.90,444.90 71.90,447.80 75.80,450.80 80.00,455.00 85.00,459.40 90.00,463.90 94.90,468.90 99.90,473.80 105.00,479.00 110.00,484.50 115.00,489.20 118.70,492.80 122.50,496.90 126.20,500.70 129.90,504.00 134.20,507.60 138.30,511.30" fill="none" stroke="#f09e80" stroke-width="0.85" stroke-linejoin="round"/>
<polyline points="21.40,385.60 21.80,438.00 22.10,441.20 23.20,447.20 25.50,452.40 28.40,457.60 31.40,462.10 34.20,466.30 38.00,472.00 43.00,479.90 47.90,486.90 52.90,493.90 57.90,499.80 62.90,505.80 67.50,511.20" fill="none" stroke="#f4d690" stroke-width="0.85" stroke-linejoin="round"/>
<rect x="21.40" y="385.50" width="159.30" height="125.80" fill="none" stroke="#b4b4b4" stroke-width="0.7"/>
<text x="21.40" y="519.00" class="tl" text-anchor="middle">0</text>
<text x="74.50" y="519.00" class="tl" text-anchor="middle">5</text>
<text x="127.60" y="519.00" class="tl" text-anchor="middle">10</text>
<text x="180.70" y="519.00" class="tl" text-anchor="middle">15</text>
<text x="20.10" y="388.00" class="tl" text-anchor="end">10<tspan class="sup" dy="-2.5">0</tspan></text>
<text x="20.10" y="419.45" class="tl" text-anchor="end">10<tspan class="sup" dy="-2.5">-2</tspan></text>
<text x="20.10" y="450.90" class="tl" text-anchor="end">10<tspan class="sup" dy="-2.5">-4</tspan></text>
<text x="20.10" y="482.35" class="tl" text-anchor="end">10<tspan class="sup" dy="-2.5">-6</tspan></text>
<text x="20.10" y="513.80" class="tl" text-anchor="end">10<tspan class="sup" dy="-2.5">-8</tspan></text>
<path d="M21.40 511.30v-1.6M21.40 385.50v1.6M74.50 511.30v-1.6M74.50 385.50v1.6M127.60 511.30v-1.6M127.60 385.50v1.6M180.70 511.30v-1.6M180.70 385.50v1.6M21.40 385.50h1.6M180.70 385.50h-1.6M21.40 401.23h1.6M180.70 401.23h-1.6M21.40 416.95h1.6M180.70 416.95h-1.6M21.40 432.68h1.6M180.70 432.68h-1.6M21.40 448.40h1.6M180.70 448.40h-1.6M21.40 464.12h1.6M180.70 464.12h-1.6M21.40 479.85h1.6M180.70 479.85h-1.6M21.40 495.57h1.6M180.70 495.57h-1.6M21.40 511.30h1.6M180.70 511.30h-1.6" stroke="#a8a8a8" stroke-width="0.6" fill="none"/>
<path d="M21.40 396.49h1.0M180.70 396.49h-1.0M21.40 393.72h1.0M180.70 393.72h-1.0M21.40 391.76h1.0M180.70 391.76h-1.0M21.40 390.23h1.0M180.70 390.23h-1.0M21.40 388.99h1.0M180.70 388.99h-1.0M21.40 387.94h1.0M180.70 387.94h-1.0M21.40 387.02h1.0M180.70 387.02h-1.0M21.40 386.22h1.0M180.70 386.22h-1.0M21.40 412.22h1.0M180.70 412.22h-1.0M21.40 409.45h1.0M180.70 409.45h-1.0M21.40 407.48h1.0M180.70 407.48h-1.0M21.40 405.96h1.0M180.70 405.96h-1.0M21.40 404.71h1.0M180.70 404.71h-1.0M21.40 403.66h1.0M180.70 403.66h-1.0M21.40 402.75h1.0M180.70 402.75h-1.0M21.40 401.94h1.0M180.70 401.94h-1.0M21.40 427.94h1.0M180.70 427.94h-1.0M21.40 425.17h1.0M180.70 425.17h-1.0M21.40 423.21h1.0M180.70 423.21h-1.0M21.40 421.68h1.0M180.70 421.68h-1.0M21.40 420.44h1.0M180.70 420.44h-1.0M21.40 419.39h1.0M180.70 419.39h-1.0M21.40 418.47h1.0M180.70 418.47h-1.0M21.40 417.67h1.0M180.70 417.67h-1.0M21.40 443.67h1.0M180.70 443.67h-1.0M21.40 440.90h1.0M180.70 440.90h-1.0M21.40 438.93h1.0M180.70 438.93h-1.0M21.40 437.41h1.0M180.70 437.41h-1.0M21.40 436.16h1.0M180.70 436.16h-1.0M21.40 435.11h1.0M180.70 435.11h-1.0M21.40 434.20h1.0M180.70 434.20h-1.0M21.40 433.39h1.0M180.70 433.39h-1.0M21.40 459.39h1.0M180.70 459.39h-1.0M21.40 456.62h1.0M180.70 456.62h-1.0M21.40 454.66h1.0M180.70 454.66h-1.0M21.40 453.13h1.0M180.70 453.13h-1.0M21.40 451.89h1.0M180.70 451.89h-1.0M21.40 450.84h1.0M180.70 450.84h-1.0M21.40 449.92h1.0M180.70 449.92h-1.0M21.40 449.12h1.0M180.70 449.12h-1.0M21.40 475.12h1.0M180.70 475.12h-1.0M21.40 472.35h1.0M180.70 472.35h-1.0M21.40 470.38h1.0M180.70 470.38h-1.0M21.40 468.86h1.0M180.70 468.86h-1.0M21.40 467.61h1.0M180.70 467.61h-1.0M21.40 466.56h1.0M180.70 466.56h-1.0M21.40 465.65h1.0M180.70 465.65h-1.0M21.40 464.84h1.0M180.70 464.84h-1.0M21.40 490.84h1.0M180.70 490.84h-1.0M21.40 488.07h1.0M180.70 488.07h-1.0M21.40 486.11h1.0M180.70 486.11h-1.0M21.40 484.58h1.0M180.70 484.58h-1.0M21.40 483.34h1.0M180.70 483.34h-1.0M21.40 482.29h1.0M180.70 482.29h-1.0M21.40 481.37h1.0M180.70 481.37h-1.0M21.40 480.57h1.0M180.70 480.57h-1.0M21.40 506.57h1.0M180.70 506.57h-1.0M21.40 503.80h1.0M180.70 503.80h-1.0M21.40 501.83h1.0M180.70 501.83h-1.0M21.40 500.31h1.0M180.70 500.31h-1.0M21.40 499.06h1.0M180.70 499.06h-1.0M21.40 498.01h1.0M180.70 498.01h-1.0M21.40 497.10h1.0M180.70 497.10h-1.0M21.40 496.29h1.0M180.70 496.29h-1.0" stroke="#c4c4c4" stroke-width="0.4" fill="none"/>
<text x="180.70" y="526.60" class="tl" text-anchor="end">&#215;10<tspan class="sup" dy="-2.3">4</tspan></text>
<text x="101.05" y="525.80" class="xl" text-anchor="middle">Iterations</text>
<text transform="translate(7.40 448.40) rotate(-90)" class="yl" text-anchor="middle">RRE</text>
<text x="101.05" y="384.40" class="tt" text-anchor="middle">m=12000,n=2000</text>
<rect x="141.70" y="389.10" width="35.2" height="19.8" fill="#fff" stroke="#b4b4b4" stroke-width="0.5"/>
<line x1="144.00" y1="393.20" x2="158.20" y2="393.20" stroke="#78b9e6" stroke-width="0.8" stroke-opacity="0.55"/>
<text x="159.70" y="395.40" class="lg" textLength="9.4" lengthAdjust="spacingAndGlyphs">RCD</text>
<line x1="144.00" y1="399.05" x2="158.20" y2="399.05" stroke="#f09e80" stroke-width="0.8" stroke-opacity="0.55"/>
<text x="159.70" y="401.25" class="lg" textLength="13.1" lengthAdjust="spacingAndGlyphs">RCDm</text>
<line x1="144.00" y1="404.90" x2="158.20" y2="404.90" stroke="#f4d690" stroke-width="0.8" stroke-opacity="0.55"/>
<text x="159.70" y="407.10" class="lg" textLength="15.9" lengthAdjust="spacingAndGlyphs">NARCO</text>
<text x="95.30" y="545.10" class="cap" text-anchor="middle">(e)</text>
<polyline points="237.80,385.60 238.00,395.90 238.50,398.90 239.00,402.90 240.00,405.40 241.50,406.90 243.00,408.90 243.50,411.90 244.00,413.80 245.40,415.80 248.00,417.50 250.00,419.50 252.00,422.40 255.00,426.90 257.90,429.90 261.90,432.90 265.90,436.40 269.90,439.40 275.00,444.20 280.00,447.50 285.00,450.70 289.90,454.20 294.90,457.60 300.00,461.30 305.00,464.50 309.90,467.50 314.90,470.00 324.90,475.90 330.00,479.20 337.50,483.80 344.90,488.40 352.40,493.00 359.90,497.20 367.30,501.60 374.80,505.40 382.20,509.10 385.40,511.20" fill="none" stroke="#78b9e6" stroke-width="0.85" stroke-linejoin="round"/>
<polyline points="237.80,385.60 238.00,392.90 238.50,396.90 239.50,399.90 240.50,402.40 242.00,404.90 243.50,406.90 244.40,409.40 245.40,411.90 246.00,412.50 248.00,416.00 250.00,419.00 253.00,423.90 255.90,428.40 258.90,431.90 262.90,436.40 266.90,440.80 270.90,444.80 275.00,449.50 280.00,453.90 285.00,457.90 288.40,462.00 290.00,463.50 295.00,468.20 300.00,472.20 305.00,475.90 309.90,480.40 315.00,485.20 324.90,492.80 330.00,497.60 337.50,503.90 345.70,511.20" fill="none" stroke="#f09e80" stroke-width="0.85" stroke-linejoin="round"/>
<polyline points="237.60,385.60 237.80,446.80 239.20,454.50 241.80,463.20 245.20,471.80 249.50,480.40 253.90,489.10 258.20,497.70 262.50,506.40 266.00,511.00" fill="none" stroke="#f4d690" stroke-width="0.85" stroke-linejoin="round"/>
<rect x="237.80" y="385.50" width="159.30" height="125.80" fill="none" stroke="#b4b4b4" stroke-width="0.7"/>
<text x="237.80" y="519.00" class="tl" text-anchor="middle">0</text>
<text x="253.73" y="519.00" class="tl" text-anchor="middle">0.5</text>
<text x="269.66" y="519.00" class="tl" text-anchor="middle">1</text>
<text x="285.59" y="519.00" class="tl" text-anchor="middle">1.5</text>
<text x="301.52" y="519.00" class="tl" text-anchor="middle">2</text>
<text x="317.45" y="519.00" class="tl" text-anchor="middle">2.5</text>
<text x="333.38" y="519.00" class="tl" text-anchor="middle">3</text>
<text x="349.31" y="519.00" class="tl" text-anchor="middle">3.5</text>
<text x="365.24" y="519.00" class="tl" text-anchor="middle">4</text>
<text x="381.17" y="519.00" class="tl" text-anchor="middle">4.5</text>
<text x="397.10" y="519.00" class="tl" text-anchor="middle">5</text>
<text x="236.50" y="388.00" class="tl" text-anchor="end">10<tspan class="sup" dy="-2.5">0</tspan></text>
<text x="236.50" y="419.45" class="tl" text-anchor="end">10<tspan class="sup" dy="-2.5">-2</tspan></text>
<text x="236.50" y="450.90" class="tl" text-anchor="end">10<tspan class="sup" dy="-2.5">-4</tspan></text>
<text x="236.50" y="482.35" class="tl" text-anchor="end">10<tspan class="sup" dy="-2.5">-6</tspan></text>
<text x="236.50" y="513.80" class="tl" text-anchor="end">10<tspan class="sup" dy="-2.5">-8</tspan></text>
<path d="M237.80 511.30v-1.6M237.80 385.50v1.6M253.73 511.30v-1.6M253.73 385.50v1.6M269.66 511.30v-1.6M269.66 385.50v1.6M285.59 511.30v-1.6M285.59 385.50v1.6M301.52 511.30v-1.6M301.52 385.50v1.6M317.45 511.30v-1.6M317.45 385.50v1.6M333.38 511.30v-1.6M333.38 385.50v1.6M349.31 511.30v-1.6M349.31 385.50v1.6M365.24 511.30v-1.6M365.24 385.50v1.6M381.17 511.30v-1.6M381.17 385.50v1.6M397.10 511.30v-1.6M397.10 385.50v1.6M237.80 385.50h1.6M397.10 385.50h-1.6M237.80 401.23h1.6M397.10 401.23h-1.6M237.80 416.95h1.6M397.10 416.95h-1.6M237.80 432.68h1.6M397.10 432.68h-1.6M237.80 448.40h1.6M397.10 448.40h-1.6M237.80 464.12h1.6M397.10 464.12h-1.6M237.80 479.85h1.6M397.10 479.85h-1.6M237.80 495.57h1.6M397.10 495.57h-1.6M237.80 511.30h1.6M397.10 511.30h-1.6" stroke="#a8a8a8" stroke-width="0.6" fill="none"/>
<path d="M237.80 396.49h1.0M397.10 396.49h-1.0M237.80 393.72h1.0M397.10 393.72h-1.0M237.80 391.76h1.0M397.10 391.76h-1.0M237.80 390.23h1.0M397.10 390.23h-1.0M237.80 388.99h1.0M397.10 388.99h-1.0M237.80 387.94h1.0M397.10 387.94h-1.0M237.80 387.02h1.0M397.10 387.02h-1.0M237.80 386.22h1.0M397.10 386.22h-1.0M237.80 412.22h1.0M397.10 412.22h-1.0M237.80 409.45h1.0M397.10 409.45h-1.0M237.80 407.48h1.0M397.10 407.48h-1.0M237.80 405.96h1.0M397.10 405.96h-1.0M237.80 404.71h1.0M397.10 404.71h-1.0M237.80 403.66h1.0M397.10 403.66h-1.0M237.80 402.75h1.0M397.10 402.75h-1.0M237.80 401.94h1.0M397.10 401.94h-1.0M237.80 427.94h1.0M397.10 427.94h-1.0M237.80 425.17h1.0M397.10 425.17h-1.0M237.80 423.21h1.0M397.10 423.21h-1.0M237.80 421.68h1.0M397.10 421.68h-1.0M237.80 420.44h1.0M397.10 420.44h-1.0M237.80 419.39h1.0M397.10 419.39h-1.0M237.80 418.47h1.0M397.10 418.47h-1.0M237.80 417.67h1.0M397.10 417.67h-1.0M237.80 443.67h1.0M397.10 443.67h-1.0M237.80 440.90h1.0M397.10 440.90h-1.0M237.80 438.93h1.0M397.10 438.93h-1.0M237.80 437.41h1.0M397.10 437.41h-1.0M237.80 436.16h1.0M397.10 436.16h-1.0M237.80 435.11h1.0M397.10 435.11h-1.0M237.80 434.20h1.0M397.10 434.20h-1.0M237.80 433.39h1.0M397.10 433.39h-1.0M237.80 459.39h1.0M397.10 459.39h-1.0M237.80 456.62h1.0M397.10 456.62h-1.0M237.80 454.66h1.0M397.10 454.66h-1.0M237.80 453.13h1.0M397.10 453.13h-1.0M237.80 451.89h1.0M397.10 451.89h-1.0M237.80 450.84h1.0M397.10 450.84h-1.0M237.80 449.92h1.0M397.10 449.92h-1.0M237.80 449.12h1.0M397.10 449.12h-1.0M237.80 475.12h1.0M397.10 475.12h-1.0M237.80 472.35h1.0M397.10 472.35h-1.0M237.80 470.38h1.0M397.10 470.38h-1.0M237.80 468.86h1.0M397.10 468.86h-1.0M237.80 467.61h1.0M397.10 467.61h-1.0M237.80 466.56h1.0M397.10 466.56h-1.0M237.80 465.65h1.0M397.10 465.65h-1.0M237.80 464.84h1.0M397.10 464.84h-1.0M237.80 490.84h1.0M397.10 490.84h-1.0M237.80 488.07h1.0M397.10 488.07h-1.0M237.80 486.11h1.0M397.10 486.11h-1.0M237.80 484.58h1.0M397.10 484.58h-1.0M237.80 483.34h1.0M397.10 483.34h-1.0M237.80 482.29h1.0M397.10 482.29h-1.0M237.80 481.37h1.0M397.10 481.37h-1.0M237.80 480.57h1.0M397.10 480.57h-1.0M237.80 506.57h1.0M397.10 506.57h-1.0M237.80 503.80h1.0M397.10 503.80h-1.0M237.80 501.83h1.0M397.10 501.83h-1.0M237.80 500.31h1.0M397.10 500.31h-1.0M237.80 499.06h1.0M397.10 499.06h-1.0M237.80 498.01h1.0M397.10 498.01h-1.0M237.80 497.10h1.0M397.10 497.10h-1.0M237.80 496.29h1.0M397.10 496.29h-1.0" stroke="#c4c4c4" stroke-width="0.4" fill="none"/>
<text x="397.10" y="526.60" class="tl" text-anchor="end">&#215;10<tspan class="sup" dy="-2.3">5</tspan></text>
<text x="317.45" y="525.80" class="xl" text-anchor="middle">Iterations</text>
<text transform="translate(223.80 448.40) rotate(-90)" class="yl" text-anchor="middle">RRE</text>
<text x="317.45" y="384.40" class="tt" text-anchor="middle">m=12000,n=4000</text>
<rect x="358.10" y="389.10" width="35.2" height="19.8" fill="#fff" stroke="#b4b4b4" stroke-width="0.5"/>
<line x1="360.40" y1="393.20" x2="374.60" y2="393.20" stroke="#78b9e6" stroke-width="0.8" stroke-opacity="0.55"/>
<text x="376.10" y="395.40" class="lg" textLength="9.4" lengthAdjust="spacingAndGlyphs">RCD</text>
<line x1="360.40" y1="399.05" x2="374.60" y2="399.05" stroke="#f09e80" stroke-width="0.8" stroke-opacity="0.55"/>
<text x="376.10" y="401.25" class="lg" textLength="13.1" lengthAdjust="spacingAndGlyphs">RCDm</text>
<line x1="360.40" y1="404.90" x2="374.60" y2="404.90" stroke="#f4d690" stroke-width="0.8" stroke-opacity="0.55"/>
<text x="376.10" y="407.10" class="lg" textLength="15.9" lengthAdjust="spacingAndGlyphs">NARCO</text>
<text x="311.70" y="545.10" class="cap" text-anchor="middle">(f)</text>
</g>
</svg>
</body></html>
